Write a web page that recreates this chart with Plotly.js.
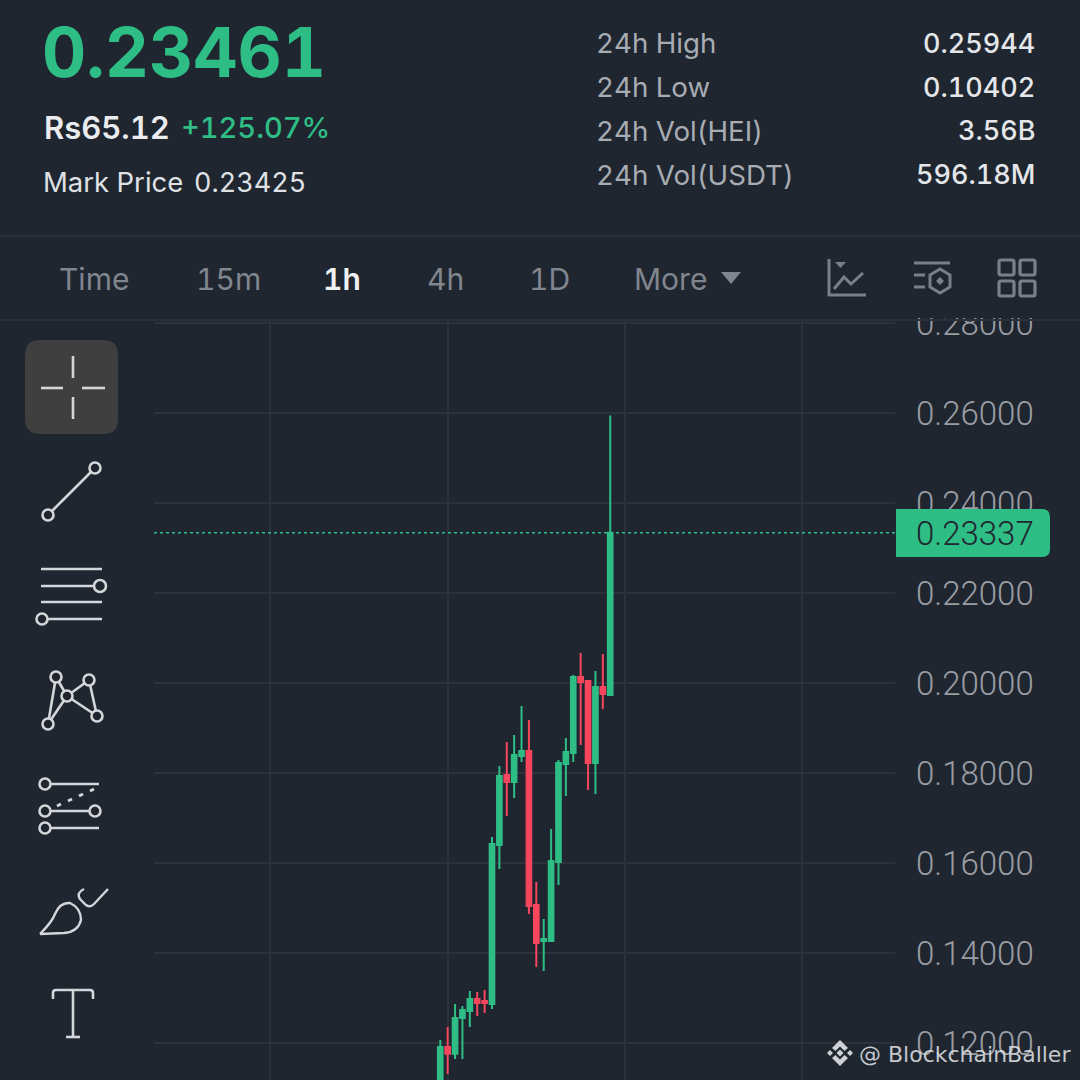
<!DOCTYPE html>
<html><head><meta charset="utf-8">
<script src="https://cdn.plot.ly/plotly-3.0.1.min.js"></script>
<style>html,body{margin:0;padding:0;background:#1f2630}#c{width:1080px;height:1080px}
.annotation-text{font-feature-settings:"tnum" 1;font-variant-numeric:tabular-nums}</style></head>
<body><div id="c"></div>
<script>
const candleIndex=[0,1,2,3,4,5,6,7,8,9,10,11,12,13,14,15,16,17,18,19,20,21,22,23];
const openVals=[0.10733,0.11911,0.11762,0.12556,0.12711,0.12978,0.12933,0.12867,0.164,0.17956,0.178,0.18378,0.18489,0.15067,0.14267,0.14267,0.16022,0.182,0.18444,0.20133,0.20044,0.18222,0.19911,0.19733];
const highVals=[0.12067,0.12356,0.12867,0.12822,0.13156,0.13133,0.13178,0.16578,0.18156,0.18689,0.18844,0.19489,0.19178,0.15578,0.14756,0.16756,0.18289,0.18778,0.20178,0.20667,0.20067,0.20267,0.20644,0.25944];
const lowVals=[0.1065,0.11311,0.11644,0.11644,0.12356,0.126,0.12667,0.12756,0.15867,0.17044,0.17444,0.18244,0.14867,0.13689,0.136,0.14267,0.15511,0.17489,0.18244,0.18622,0.17622,0.17533,0.19422,0.19733];
const closeVals=[0.11911,0.11762,0.12556,0.12733,0.12978,0.12889,0.12889,0.16422,0.17933,0.178,0.184,0.18489,0.15044,0.14222,0.14311,0.16044,0.18222,0.18467,0.20133,0.20022,0.18222,0.19911,0.19756,0.23337];
const xGridIdx=[-23,1,25,49];
const yTicks=[0.12,0.14,0.16,0.18,0.20,0.22,0.24,0.26,0.28];
const lastPrice=0.23337;
const statLabels=["24h High","24h Low","24h Vol(HEI)","24h Vol(USDT)"];
const statValues=["0.25944","0.10402","3.56B","596.18M"];
const tabLabels=["Time","15m","1h","4h","1D","More"];

const BG="#1f2630",GREEN="#2ebd85",RED="#f6465d",GRID="#2b323c",ICON="#d4d6d9",ICON2="#7a7f89";
const PLOT_L=154,PLOT_R=895,PLOT_T=320;
const X=p=>p/1080,Y=p=>1-p/1080;
const shapes=[],ann=[];
function line(x0,y0,x1,y1,c=ICON,w=2.6,dash){shapes.push({type:'line',xref:'paper',yref:'paper',x0:X(x0),y0:Y(y0),x1:X(x1),y1:Y(y1),line:{color:c,width:w,dash:dash||'solid'}});}
function circ(cx,cy,r,c=ICON,w=2.6){shapes.push({type:'circle',xref:'paper',yref:'paper',x0:X(cx-r),x1:X(cx+r),y0:Y(cy-r),y1:Y(cy+r),fillcolor:BG,line:{color:c,width:w}});}
function path(d,c,w,fill){
  const s=d.replace(/(-?[\d.]+),(-?[\d.]+)/g,(m,a,b)=>X(+a).toFixed(5)+','+Y(+b).toFixed(5));
  shapes.push({type:'path',xref:'paper',yref:'paper',path:s,line:{color:c||'rgba(0,0,0,0)',width:w||0},fillcolor:fill||'rgba(0,0,0,0)'});
}
function rrect(x0,y0,x1,y1,r){return `M${x0+r},${y0} L${x1-r},${y0} Q${x1},${y0} ${x1},${y0+r} L${x1},${y1-r} Q${x1},${y1} ${x1-r},${y1} L${x0+r},${y1} Q${x0},${y1} ${x0},${y1-r} L${x0},${y0+r} Q${x0},${y0} ${x0+r},${y0} Z`;}
function txt(t,x,y,size,color,anchor='left',weight=400,family='Inter'){ann.push({text:t,xref:'paper',yref:'paper',x:X(x),y:Y(y),xanchor:anchor,yanchor:'middle',showarrow:false,borderpad:0,font:{family,size,color,weight}});}

shapes.push({type:'rect',xref:'paper',yref:'paper',x0:0,x1:1,y0:Y(318),y1:1,fillcolor:BG,line:{width:0}});
line(0,236,1080,236,"#2d343e",1.5);
line(0,320,1080,320,"#2a313b",2);

txt("0.23461",41,53,68.5,GREEN,'left',700);
txt("Rs65.12",43,128,31,"#eaecef",'left',600);
txt("+125.07%",180,128,29,GREEN,'left',500);
txt("Mark Price",42,182,27.5,"#dfe1e5");
txt("0.23425",193,182,27,"#dfe1e5");
const statY=[43,87,131,175];
statLabels.forEach((s,i)=>{txt(s,595,statY[i],27.7,"#a8acb3");txt(statValues[i],1036,statY[i],27,"#e4e6e9",'right',500);});

const tabX=[94,228,342,445,549,670];
tabLabels.forEach((s,i)=>txt(s,tabX[i],279,30,i===2?"#eef0f2":"#80858e",'center',i===2?600:400));
path("M721,272 L741,272 L731,284 Z",null,0,"#80858e");

path("M829,259 L829,295 L866,295",ICON2,3);
path("M835,262 L846,262 L840.5,268 Z",null,0,ICON2);
path("M834,289 L844,277 L851,284 L863,273",ICON2,3);
line(914,263,950,263,ICON2,3);line(914,275,925,275,ICON2,3);line(914,287,925,287,ICON2,3);
path("M940,269 L950,275 L950,287 L940,293 L930,287 L930,275 Z",ICON2,3);
path("M940,277 L944,281 L940,285 L936,281 Z",null,0,ICON2);
[[999,260],[1020,260],[999,281],[1020,281]].forEach(a=>path(rrect(a[0],a[1],a[0]+15,a[1]+15,2),ICON2,3.2));

path(rrect(25,340,118,434,15),null,0,"#3f3f40");
line(73,356,73,378);line(73,397,73,419);line(41,388,63,388);line(82,388,105,388);
line(48,515,95,468);circ(48,515,5.5);circ(95,468,5.5);
line(41,569,102,569);line(41,586,96,586);line(41,602,102,602);line(46,619,102,619);circ(100,586,6);circ(42,619,5.5);
line(56,677,48,724);line(56,677,67,696);line(67,696,97,716);line(48,724,67,696);line(67,696,89,680);line(89,680,97,716);
circ(56,677,5.5);circ(89,680,5.5);circ(67,696,5.5);circ(48,724,5.5);circ(97,716,5.5);
line(45,784,99,784);line(45,811,95,811);line(45,828,99,828);circ(45,784,5.5);circ(45,811,5.5);circ(95,811,5.5);circ(45,828,5.5);
[[57,806,61,804],[68,801,72,799],[79,796,83,794],[90,791,94,789]].forEach(a=>line(a[0],a[1],a[2],a[3],ICON,3));
path("M40,934 Q52,922 55,914 Q60,902 70,903 Q81,908 81,920 Q78,932 64,933 L40,934",ICON,2.4);
path("M84,889 Q76,893 80,899 L86,905 Q90,908 94,904 L108,889",ICON,2.4);
path("M53,999 L53,993 Q53,990 56,990 L90,990 Q93,990 93,993 L93,999",ICON,2.6);
line(73,990,73,1037);line(66,1037,80,1037);

shapes.push({type:'line',xref:'paper',yref:'y',x0:X(PLOT_L),x1:X(PLOT_R),y0:lastPrice,y1:lastPrice,line:{color:GREEN,width:1.5,dash:'dot'}});
path("M896,509 L1042,509 Q1050,509 1050,517 L1050,549 Q1050,557 1042,557 L896,557 Z",null,0,GREEN);
txt(lastPrice.toFixed(5),915,533,33,"#1f2630",'left',300,'Roboto');

path("M840,1040 L848,1048 L844.5,1051 L840,1046.5 L835.5,1051 L832,1048 Z",null,0,"#cfd1d4");
path("M840,1066 L848,1058 L844.5,1055 L840,1059.5 L835.5,1055 L832,1058 Z",null,0,"#cfd1d4");
path("M840,1049.5 L843.5,1053 L840,1056.5 L836.5,1053 Z",null,0,"#cfd1d4");
path("M830,1050 L833,1053 L830,1056 L827,1053 Z",null,0,"#cfd1d4");
path("M850,1050 L853,1053 L850,1056 L847,1053 Z",null,0,"#cfd1d4");
txt("@ BlockchainBaller",858,1054,22,"rgba(222,224,227,0.88)",'left',400,'DejaVu Sans');

const trace={type:'candlestick',x:candleIndex,open:openVals,high:highVals,low:lowVals,close:closeVals,
  increasing:{line:{color:GREEN,width:2},fillcolor:GREEN},
  decreasing:{line:{color:RED,width:2},fillcolor:RED},whiskerwidth:0,hoverinfo:'skip'};
const layout={width:1080,height:1080,margin:{l:0,r:0,t:0,b:0},paper_bgcolor:BG,plot_bgcolor:BG,showlegend:false,boxgap:0.1,
  xaxis:{domain:[X(PLOT_L),X(PLOT_R)],range:[-38.74,61.54],tickmode:'array',tickvals:xGridIdx,showticklabels:false,ticks:'',
    showgrid:true,gridcolor:GRID,gridwidth:2,zeroline:false,rangeslider:{visible:false},showline:false,fixedrange:true},
  yaxis:{domain:[0,Y(PLOT_T)],range:[0.11178,0.28067],side:'right',tickmode:'array',tickvals:yTicks,tickformat:'.5f',ticks:'',
    ticklabelstandoff:20,tickfont:{family:'Roboto',size:33,color:"#9a9da3",weight:300},
    showgrid:true,gridcolor:GRID,gridwidth:2,zeroline:false,showline:false,fixedrange:true},
  shapes,annotations:ann};
Plotly.newPlot('c',[trace],layout,{staticPlot:true,displayModeBar:false});
</script></body></html>
